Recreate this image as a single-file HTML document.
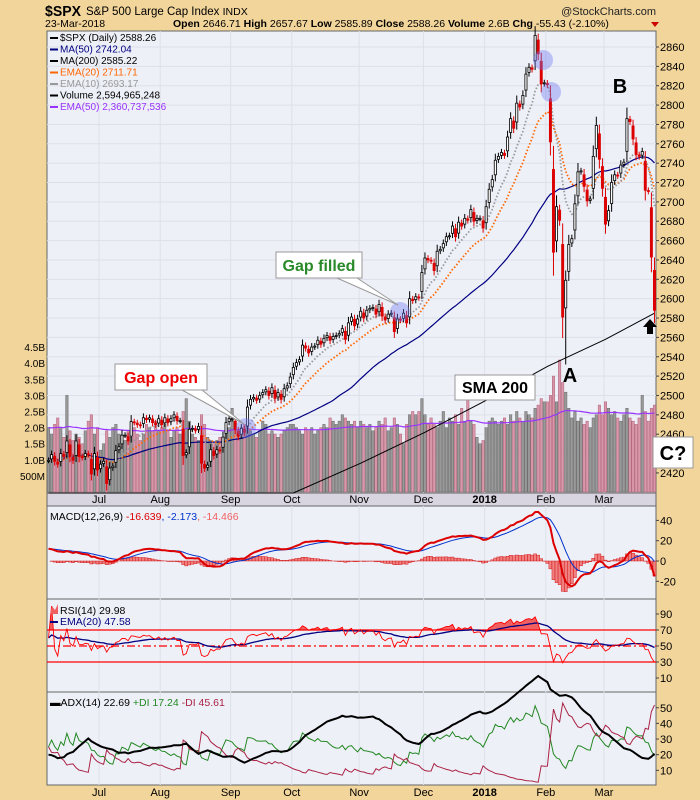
<!DOCTYPE html>
<html><head><meta charset="utf-8">
<style>
body{margin:0;background:#f2d59b;font-family:"Liberation Sans",sans-serif;}
#wrap{position:relative;width:700px;height:800px;overflow:hidden;background:#f2d59b;}
svg{position:absolute;left:0;top:0;}
</style></head>
<body>
<div id="wrap">
<svg id="chart" width="700" height="800" xmlns="http://www.w3.org/2000/svg">
<text x="45" y="16" font-size="15" font-weight="bold" fill="#000" textLength="36" lengthAdjust="spacingAndGlyphs">$SPX</text>
<text x="86" y="15" font-size="11.5" fill="#000">S&amp;P 500 Large Cap Index <tspan font-size="10.5">INDX</tspan></text>
<text x="656" y="15" font-size="11" fill="#222" text-anchor="end">@StockCharts.com</text>
<text x="45" y="27" font-size="10.5" fill="#000">23-Mar-2018</text>
<text x="173" y="27" font-size="10.5" fill="#000"><tspan font-weight="bold">Open</tspan> 2646.71 <tspan font-weight="bold">High</tspan> 2657.67 <tspan font-weight="bold">Low</tspan> 2585.89 <tspan font-weight="bold">Close</tspan> 2588.26 <tspan font-weight="bold">Volume</tspan> 2.6B <tspan font-weight="bold">Chg</tspan> -55.43 (-2.10%)</text>
<polygon points="651,22 659,22 655,27" fill="#cc0000"/>
<g id="g"></g>
</svg>
</div>
<script>
const closes=[2433,2439,2432,2429,2440,2437,2453,2437,2433,2453,2437,2436,2440,2439,2419,2440,2423,
2429,2432,2409,2425,2427,2443,2447,2459,2459,2453,2473,2472,2470,2469,2477,2475,2477,2472,2470,2476,
2470,2477,2472,2476,2480,2474,2474,2438,2441,2465,2466,2464,2468,2430,2425,2428,2444,2438,2444,2443,2457,2472,2476,
2476,2465,2458,2466,2462,2488,2496,2498,2495,2500,2503,2506,2500,2508,2497,2503,2496,2507,2510,2519,
2529,2534,2537,2552,2549,2544,2550,2551,2557,2553,2559,2562,2557,2561,2562,2564,2569,2558,2575,2581,2572,2579,
2587,2580,2588,2590,2591,2584,2594,2582,2578,2584,2585,2566,2579,2578,2585,2575,2600,2598,2602,2601,2627,
2642,2640,2639,2629,2649,2651,2657,2664,2665,2675,2664,2679,2675,2683,2681,2692,2680,2683,2683,2673,
2695,2713,2723,2743,2747,2751,2748,2767,2786,2776,2802,2798,2810,2832,2839,2837,2872,2853,2822,2823,
2821,2762,2648,2695,2681,2581,2619,2656,2662,2698,2731,2732,2716,2701,2703,2747,2779,2744,2714,
2677,2691,2720,2728,2727,2738,2741,2786,2783,2765,2749,2747,2752,2712,2711,2643,2588];
const volumes=[2.0,1.8,2.1,2.3,2.0,1.7,3.0,1.9,1.6,1.8,1.7,1.5,1.9,2.2,2.4,1.8,2.0,
1.3,1.5,1.9,1.7,2.0,2.1,1.8,1.7,1.6,1.9,1.7,2.0,1.8,1.6,1.8,2.1,2.0,1.9,2.2,1.9,
2.0,2.1,1.9,1.7,1.9,2.0,1.8,2.5,2.9,2.2,1.8,1.7,1.6,2.4,2.1,1.7,1.6,1.5,1.6,1.7,1.6,1.9,2.0,
2.6,2.2,1.9,2.0,2.1,2.1,1.9,1.8,1.7,1.9,2.2,2.1,1.8,1.9,1.8,1.7,1.8,1.9,2.0,2.1,
2.1,2.0,1.9,1.8,2.0,1.9,2.0,1.8,1.9,2.0,2.1,2.0,2.3,2.2,2.1,2.2,2.4,2.3,2.2,2.1,2.2,2.0,
2.2,2.1,2.0,2.1,1.9,2.0,2.2,2.1,2.3,1.9,2.0,2.3,2.1,1.8,1.5,2.1,2.4,2.5,2.4,2.5,2.9,
2.4,2.1,2.3,2.1,2.0,2.2,2.5,2.0,2.3,2.2,2.4,2.1,2.6,2.2,3.3,2.2,2.1,1.7,1.5,1.6,
2.0,2.2,2.3,2.2,2.1,2.2,2.3,2.1,2.4,2.2,2.5,2.3,2.2,2.5,2.4,2.3,2.6,2.7,2.9,2.8,
2.8,3.0,3.6,2.8,4.1,3.4,3.1,2.6,2.3,2.5,2.2,2.3,2.1,2.2,2.0,2.3,2.4,2.7,2.4,
2.8,2.6,2.4,2.5,2.3,2.2,2.4,2.6,2.3,2.2,2.1,2.3,3.0,2.5,2.2,2.6,2.7];
const ma200Idx=[0,17,37,60,80,102,123,143,163,182,198];
const ma200Val=[2300,2330,2360,2385,2398,2430,2462,2495,2530,2558,2585];
const lowOverride={169:2532};
const monthIdx=[17,37,60,80,102,123,143,163,182];
const monthNames=["Jul","Aug","Sep","Oct","Nov","Dec","2018","Feb","Mar"];
const priceTicks=[2420,2440,2460,2480,2500,2520,2540,2560,2580,2600,2620,2640,2660,2680,2700,2720,2740,2760,2780,2800,2820,2840,2860];
const volTicks=[0.5,1,1.5,2,2.5,3,3.5,4,4.5];
const volTickLabels=["500M","1.0B","1.5B","2.0B","2.5B","3.0B","3.5B","4.0B","4.5B"];
const macdTicks=[40,20,0,-20];
const rsiTicks=[90,70,50,30,10];
const adxTicks=[50,40,30,20,10];
const macdSeed=12;

const NS="http://www.w3.org/2000/svg";
const G=document.getElementById('g');
function mk(tag,attrs,parent,name){const e=document.createElementNS(NS,tag);for(const k in attrs)e.setAttribute(k,attrs[k]);


(parent||G).appendChild(e);return e;}
const L=47,R=656,n=closes.length,dx=(R-L)/n;
const X=i=>L+dx*(i+0.5);
const PT=31,PB=493;
const Y=p=>47+(2860-p)*0.968;
const VY=v=>492-v*32.2;
const MY=v=>561-v*1.015;
const RY=v=>686-v*0.8;
const AY=v=>786-v*1.565;
const opens=closes.map((c,i)=>i==0?c:closes[i-1]+(c-closes[i-1])*0.25);
const highs=closes.map((c,i)=>Math.max(c,opens[i])+3+Math.abs(c-opens[i])*0.25);
const lows=closes.map((c,i)=>lowOverride[i]!==undefined?lowOverride[i]:Math.min(c,opens[i])-3-Math.abs(c-opens[i])*0.25);
function ema(a,p,seed){const k=2/(p+1);let r=[],e=a[0];a.forEach((v,i)=>{e=i==0?(seed!==undefined?seed:v):v*k+e*(1-k);r.push(e);});return r;}
function sma(a,p){return a.map((v,i)=>{const s=a.slice(Math.max(0,i-p+1),i+1);return s.reduce((x,y)=>x+y,0)/s.length;});}
function poly(pts,attrs,name,parent){return mk('polyline',Object.assign({points:pts.map(p=>p[0].toFixed(1)+','+p[1].toFixed(1)).join(' '),fill:'none'},attrs),parent,name);}

function panel(y0,y1,name){mk('rect',{x:L,y:y0,width:R-L,height:y1-y0,fill:'#eef0f8',stroke:'#666',"stroke-width":1},G,name);}
panel(PT,PB,'price-panel');panel(506,599,'macd-panel');panel(599,692,'rsi-panel');panel(692,785,'adx-panel');
mk('rect',{x:L,y:PB,width:R-L,height:13,fill:'#d8d4e0',stroke:'#666'},G,'month-strip');
monthIdx.forEach((m,j)=>{const x=X(m)-dx/2;
 [[PT,PB],[506,599],[599,692],[692,785]].forEach(r=>mk('line',{x1:x,x2:x,y1:r[0],y2:r[1],stroke:'#dde0ea'},G,'month-gridline'));
 [503,796].forEach(yy=>{const t=mk('text',{x:x,y:yy,"font-size":11,"text-anchor":"middle",fill:'#000',"font-weight":monthNames[j]=="2018"?"bold":"normal"},G,'month-label');t.textContent=monthNames[j];});
});
priceTicks.forEach(p=>{const y=Y(p);mk('line',{x1:L,x2:R,y1:y,y2:y,stroke:'#dde0ea'},G,'price-gridline');
 mk('line',{x1:R,x2:R+3,y1:y,y2:y,stroke:'#444'},G,'price-tick');
 const t=mk('text',{x:R+4,y:y+4,"font-size":11,fill:'#000'},G,'price-tick-label');t.textContent=p;});
volTicks.forEach((v,j)=>{const y=VY(v);const t=mk('text',{x:45,y:y+4,"font-size":10,"text-anchor":"end",fill:'#000'},G,'volume-tick-label');t.textContent=volTickLabels[j];});
const vg=mk('g',{},G,'volume-bars');
volumes.forEach((v,i)=>{const down=i>0&&closes[i]<closes[i-1];
 mk('rect',{x:X(i)-dx/2+0.3,y:VY(v),width:dx-0.6,height:492-VY(v),fill:down?'#d898aa':'#999',stroke:down?'#b06078':'#666',"stroke-width":0.5},vg,'volume-bar');});
poly(ema(volumes,50).map((v,i)=>[X(i),VY(v)]),{stroke:'#9933ff',"stroke-width":1.2},'volume-ema50');
poly(ma200Idx.map((ix,j)=>[X(ix),Math.min(PB,Y(ma200Val[j]))]),{stroke:'#000',"stroke-width":1},'ma200-line');
poly(sma(closes,50).map((v,i)=>[X(i),Y(v)]),{stroke:'#000080',"stroke-width":1.2},'ma50-line');
poly(ema(closes,20).map((v,i)=>[X(i),Y(v)]),{stroke:'#ff6600',"stroke-width":1.8,"stroke-dasharray":"1.5,2"},'ema20-line');
poly(ema(closes,10).map((v,i)=>[X(i),Y(v)]),{stroke:'#999',"stroke-width":1.8,"stroke-dasharray":"1.5,2"},'ema10-line');
const cg=mk('g',{},G,'candles');
closes.forEach((c,i)=>{const o=opens[i];const col=(i>0&&c<closes[i-1])?'#dd0000':'#000';const x=X(i);
 mk('line',{x1:x,x2:x,y1:Y(highs[i]),y2:Y(lows[i]),stroke:col,"stroke-width":1},cg,'candle-wick');
 const top=Y(Math.max(o,c)),h=Math.max(1,Y(Math.min(o,c))-top);
 mk('rect',{x:x-dx*0.35,y:top,width:dx*0.7,height:h,fill:c<o?col:'#fff',stroke:col,"stroke-width":0.8},cg,'candle-body');});
[[543,60,10],[551,92,10],[400,312,10],[246,428,10]].forEach(c=>mk('circle',{cx:c[0],cy:c[1],r:c[2],fill:'rgba(110,120,240,0.4)'},G,'gap-highlight'));
function callout(x,y,w,h,txt,col,px,py,name,fs){
 mk('polygon',{points:`${x+w-25},${y+h} ${x+w-5},${y+h} ${px},${py}`,fill:'#fff',stroke:'#999'},G,name+'-pointer');
 mk('rect',{x:x,y:y,width:w,height:h,fill:'#fff',stroke:'#999',"stroke-width":1},G,name+'-box');
 const t=mk('text',{x:x+w/2,y:y+h/2+6,"font-size":fs,"font-weight":"bold","text-anchor":"middle",fill:col},G,name+'-text');t.textContent=txt;}
callout(276,252,86,26,'Gap filled','#2a8a2a',398,305,'gap-filled-callout',16);
callout(115,364,92,26,'Gap open','#ee0000',244,424,'gap-open-callout',16);
mk('rect',{x:455,y:375,width:80,height:25,fill:'#fff',stroke:'#999'},G,'sma200-box');
let t=mk('text',{x:495,y:393,"font-size":16,"font-weight":"bold","text-anchor":"middle",fill:'#000'},G,'sma200-label');t.textContent='SMA 200';
t=mk('text',{x:620,y:93,"font-size":20,"font-weight":"bold","text-anchor":"middle",fill:'#000'},G,'wave-b-label');t.textContent='B';
t=mk('text',{x:570,y:382,"font-size":20,"font-weight":"bold","text-anchor":"middle",fill:'#000'},G,'wave-a-label');t.textContent='A';
mk('rect',{x:653,y:437,width:40,height:31,fill:'#fff',stroke:'#999'},G,'wave-c-box');
t=mk('text',{x:673,y:460,"font-size":20,"font-weight":"bold","text-anchor":"middle",fill:'#000'},G,'wave-c-label');t.textContent='C?';
mk('polygon',{points:'650,319 657,327 653,327 653,334 647,334 647,327 643,327',fill:'#000'},G,'up-arrow');
const leg=[['$SPX (Daily) 2588.26','#000'],['MA(50) 2742.04','#000080'],['MA(200) 2585.22','#000'],['EMA(20) 2711.71','#ff6600'],['EMA(10) 2693.17','#999'],['Volume 2,594,965,248','#000'],['EMA(50) 2,360,737,536','#9933ff']];
leg.forEach((l,j)=>{const y=41+j*11.5;mk('rect',{x:50,y:y-4,width:8,height:2,fill:l[1]},G,'legend-swatch');
 const tt=mk('text',{x:60,y:y,"font-size":10,fill:l[1]},G,'legend-entry');tt.textContent=l[0];});
const e12=ema(closes,12),e26=ema(closes,26,closes[0]-macdSeed);const macd=e12.map((v,i)=>v-e26[i]);const sig=ema(macd,9);
macdTicks.forEach(v=>{const y=MY(v);mk('line',{x1:R,x2:R+3,y1:y,y2:y,stroke:'#444'},G,'macd-tick');
 const tt=mk('text',{x:R+4,y:y+4,"font-size":11},G,'macd-tick-label');tt.textContent=v;});
const mg=mk('g',{},G,'macd-histogram');
macd.forEach((v,i)=>{const h=v-sig[i];const y0=MY(0),y1=MY(h);mk('rect',{x:X(i)-dx/2,y:Math.min(y0,y1),width:dx,height:Math.abs(y1-y0),fill:'#f08080',stroke:'#cc0000',"stroke-width":0.4},mg,'macd-hist-bar');});
poly(sig.map((v,i)=>[X(i),MY(v)]),{stroke:'#0033cc',"stroke-width":1},'macd-signal-line');
poly(macd.map((v,i)=>[X(i),MY(v)]),{stroke:'#dd0000',"stroke-width":2},'macd-line');
t=mk('text',{x:50,y:520,"font-size":10.5},G,'macd-legend');t.innerHTML='<tspan fill="#000">MACD(12,26,9) </tspan><tspan fill="#dd0000">-16.639</tspan><tspan fill="#0033cc">, -2.173</tspan><tspan fill="#f06060">, -14.466</tspan>';
let ag=0,al=0;const rsi=[60];
for(let i=1;i<n;i++){const d=closes[i]-closes[i-1];const g=Math.max(d,0),l=Math.max(-d,0);
 if(i<=14){ag+=g/14;al+=l/14;}else{ag=(ag*13+g)/14;al=(al*13+l)/14;}
 rsi.push(al==0?100:100-100/(1+ag/al));}
rsiTicks.forEach(v=>{const y=RY(v);mk('line',{x1:R,x2:R+3,y1:y,y2:y,stroke:'#444'},G,'rsi-tick');
 const tt=mk('text',{x:R+4,y:y+4,"font-size":11},G,'rsi-tick-label');tt.textContent=v;});
const clip=mk('clipPath',{id:'c70'},G,'rsi-clip');mk('rect',{x:L,y:599,width:R-L,height:RY(70)-599},clip,'rsi-clip-rect');
mk('polygon',{points:[[X(0),RY(70)]].concat(rsi.map((v,i)=>[X(i),RY(v)])).concat([[X(n-1),RY(70)]]).map(p=>p[0].toFixed(1)+','+p[1].toFixed(1)).join(' '),fill:'#f06060',"clip-path":'url(#c70)'},G,'rsi-overbought-fill');
[70,30].forEach(v=>mk('line',{x1:L,x2:R,y1:RY(v),y2:RY(v),stroke:'#ff0000',"stroke-width":1.3},G,'rsi-level-line'));
mk('line',{x1:L,x2:R,y1:RY(50),y2:RY(50),stroke:'#ff0000',"stroke-width":1.3,"stroke-dasharray":"8,3,2,3"},G,'rsi-midline');
poly(ema(rsi,20).map((v,i)=>[X(i),RY(v)]),{stroke:'#000080',"stroke-width":1.3},'rsi-ema-line');
poly(rsi.map((v,i)=>[X(i),RY(v)]),{stroke:'#ff0000',"stroke-width":0.9},'rsi-line');
t=mk('text',{x:60,y:614,"font-size":10.5,fill:'#000'},G,'rsi-legend');t.textContent='RSI(14) 29.98';
mk('polygon',{points:'50,614 52,606 55,610 58,604 58,614',fill:'#f06060'},G,'rsi-legend-icon');
mk('rect',{x:50,y:621,width:8,height:2,fill:'#000080'},G,'rsi-ema-swatch');
t=mk('text',{x:60,y:625,"font-size":10.5,fill:'#000080'},G,'rsi-ema-legend');t.textContent='EMA(20) 47.58';
let trS=0,pS=0,mS=0,adx=[],pdi=[],mdi=[],adxv=20;
for(let i=0;i<n;i++){let tr=highs[i]-lows[i],pdm=0,mdm=0;
 if(i>0){tr=Math.max(tr,Math.abs(highs[i]-closes[i-1]),Math.abs(lows[i]-closes[i-1]));
  const up=highs[i]-highs[i-1],dn=lows[i-1]-lows[i];pdm=(up>dn&&up>0)?up:0;mdm=(dn>up&&dn>0)?dn:0;}
 if(i==0){trS=tr*14;pS=tr*3.5;mS=tr*3.5;}else{trS=trS-trS/14+tr;pS=pS-pS/14+pdm;mS=mS-mS/14+mdm;}
 const p=100*pS/trS,m=100*mS/trS;pdi.push(p);mdi.push(m);const dxv=(p+m)?100*Math.abs(p-m)/(p+m):0;
 adxv=i==0?20:(adxv*13+dxv)/14;adx.push(adxv);}
adxTicks.forEach(v=>{const y=AY(v);mk('line',{x1:R,x2:R+3,y1:y,y2:y,stroke:'#444'},G,'adx-tick');
 const tt=mk('text',{x:R+4,y:y+4,"font-size":11},G,'adx-tick-label');tt.textContent=v;});
poly(pdi.map((v,i)=>[X(i),AY(v)]),{stroke:'#228822',"stroke-width":1},'plus-di-line');
poly(mdi.map((v,i)=>[X(i),AY(v)]),{stroke:'#aa2244',"stroke-width":1},'minus-di-line');
poly(adx.map((v,i)=>[X(i),AY(v)]),{stroke:'#000',"stroke-width":2},'adx-line');
t=mk('text',{x:50,y:706,"font-size":10.5},G,'adx-legend');t.innerHTML='<tspan fill="#000">▬ADX(14) 22.69 </tspan><tspan fill="#228822">+DI 17.24 </tspan><tspan fill="#aa2244">-DI 45.61</tspan>';
</script>
</body></html>
